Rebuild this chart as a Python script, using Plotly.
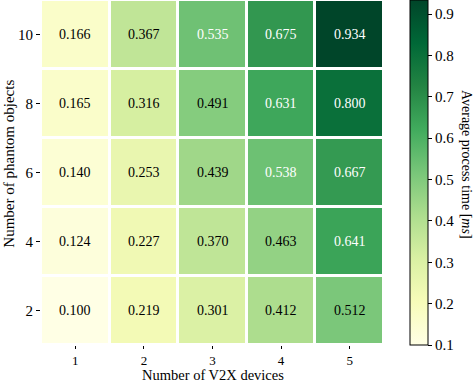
import plotly.graph_objects as go

x_values = [1, 2, 3, 4, 5]
y_values = [2, 4, 6, 8, 10]
x_tick_labels = ["1", "2", "3", "4", "5"]
y_tick_labels = ["2", "4", "6", "8", "10"]
z_row_2 = [0.100, 0.219, 0.301, 0.412, 0.512]
z_row_4 = [0.124, 0.227, 0.370, 0.463, 0.641]
z_row_6 = [0.140, 0.253, 0.439, 0.538, 0.667]
z_row_8 = [0.165, 0.316, 0.491, 0.631, 0.800]
z_row_10 = [0.166, 0.367, 0.535, 0.675, 0.934]
z = [z_row_2, z_row_4, z_row_6, z_row_8, z_row_10]
cbar_ticks = [0.1, 0.2, 0.3, 0.4, 0.5, 0.6, 0.7, 0.8, 0.9]

ylgn = ['rgb(255,255,229)', 'rgb(247,252,185)', 'rgb(217,240,163)', 'rgb(173,221,142)',
        'rgb(120,198,121)', 'rgb(65,171,93)', 'rgb(35,132,67)', 'rgb(0,104,55)', 'rgb(0,69,41)']
colorscale = [[i / 8, c] for i, c in enumerate(ylgn)]

FONT = "Liberation Serif"

fig = go.Figure(go.Heatmap(
    x=x_values, y=y_values, z=z,
    colorscale=colorscale, zmin=0.1, zmax=0.934,
    xgap=3, ygap=3,
    colorbar=dict(
        x=1.076, xanchor="left", y=0, yanchor="bottom", len=1, lenmode="fraction",
        thickness=18, outlinewidth=1, outlinecolor="black", xpad=0, ypad=0,
        tickvals=cbar_ticks,
        ticktext=[f"{t:.1f}" for t in cbar_ticks],
        ticks="outside", ticklen=4, tickcolor="black", tickwidth=1,
        tickfont=dict(family=FONT, size=15, color="black"),
    ),
    hoverinfo="skip",
))

annotations = []
for yi, row in zip(y_values, z):
    for xi, v in zip(x_values, row):
        annotations.append(dict(
            x=xi, y=yi, text=f"{v:.3f}", showarrow=False,
            font=dict(family=FONT, size=14, color="white" if v > 0.52 else "black"),
        ))
annotations.append(dict(
    x=1.239, y=0.522, xref="paper", yref="paper", xanchor="center", yanchor="middle",
    text="Average process time [<i>ms</i>]", textangle=90, showarrow=False,
    font=dict(family=FONT, size=14, color="black"),
))
annotations.append(dict(
    x=0.5, y=-0.113, xref="paper", yref="paper", xanchor="center", yanchor="bottom",
    text="Number of V2X devices", showarrow=False, borderpad=0,
    font=dict(family=FONT, size=14.5, color="black"),
))
annotations.append(dict(
    x=-0.094, y=0.525, xref="paper", yref="paper", xanchor="center", yanchor="middle",
    text="Number of phantom objects", textangle=-90, showarrow=False,
    font=dict(family=FONT, size=15, color="black"),
))

fig.update_layout(
    width=474, height=384,
    margin=dict(l=41, r=90, t=0, b=39, autoexpand=False),
    paper_bgcolor="white", plot_bgcolor="white",
    font=dict(family=FONT, size=14, color="black"),
    annotations=annotations,
    xaxis=dict(range=[0.5, 5.5], tickvals=x_values, ticktext=x_tick_labels,
               ticks="outside", ticklen=3, tickcolor="black", showgrid=False, zeroline=False,
               tickfont=dict(family=FONT, size=13), automargin=False),
    yaxis=dict(range=[1, 11], tickvals=y_values, ticktext=y_tick_labels,
               ticks="outside", ticklen=4, tickcolor="black", showgrid=False, zeroline=False,
               tickfont=dict(family=FONT, size=15), automargin=False),
)

fig.write_html("out.html", config={"displayModeBar": False},
               post_script="document.body.style.margin='0';")
